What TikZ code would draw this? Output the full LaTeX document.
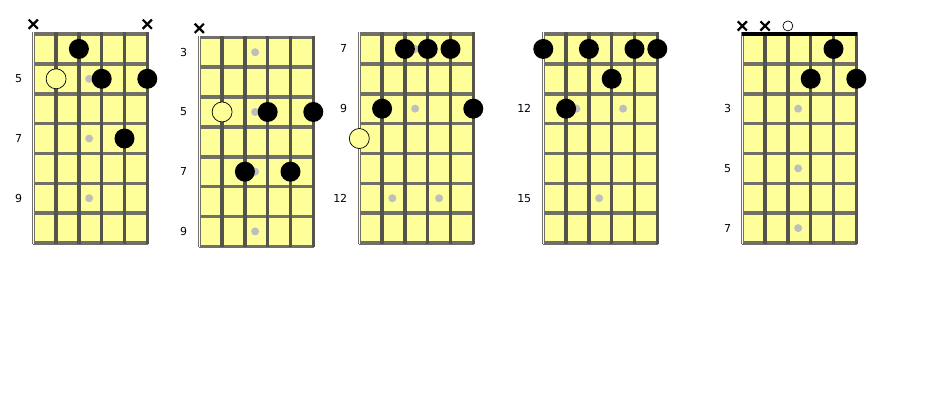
\documentclass[tikz,border=0pt]{standalone}
\usepackage{fontspec}
\setmainfont{DejaVu Sans}
\usetikzlibrary{shapes.misc}
\definecolor{boardyellow}{RGB}{255,255,153}
\definecolor{fretgray}{RGB}{112,112,104}
\definecolor{stringgray}{RGB}{84,84,76}
\definecolor{inlaygray}{RGB}{190,190,190}
\begin{document}
\begin{tikzpicture} [
                x=22.8pt, y=-29.86pt,
                board/.style={fill=boardyellow},
                fret/.style={draw=fretgray,line width=3.6pt},
                lowstring/.style={draw=fretgray,line width=3.6pt},
                thickstring/.style={draw=stringgray,line width=3.6pt},
                thinstring/.style={draw=stringgray,line width=2.5pt},
                nut/.style={draw=black,line width=4pt},
                inlay/.style={circle,fill=inlaygray,minimum size=8pt,inner sep=0pt},
                finger/.style={circle,fill=black,minimum size=20pt,inner sep=0pt},
                root/.style={circle,fill=boardyellow,draw=black,line width=0.7pt,minimum size=20pt,inner sep=0pt},
                openstring/.style={circle,draw=black,line width=0.7pt,minimum size=10pt,inner sep=0pt},
                mute/.style={cross out,draw=black,line width=2.2pt,minimum size=7pt,inner sep=0pt},
                fretno/.style={anchor=east,inner sep=0pt,font=\fontsize{11}{13}\selectfont},
            ]
            \useasboundingbox (0pt,0pt) rectangle (932pt,-400pt);
            % First we draw the five fretboards
            \foreach \name/\bx/\by in {
                    one/33.3/34, two/199.3/37.3, three/359.3/34, four/543.3/34, five/742.3/34} {
                \begin{scope}[shift={(\bx pt,-\by pt)}]
                    \coordinate (\name) at (0,0);
                    \fill[board] (0,0) rectangle (5.05,7);
                    \foreach \f in {0,...,7}
                        \draw[fret] (0,\f) -- (5.05,\f);
                    \draw[lowstring] (0,-0.06) -- (0,7.02);
                    \draw[white,line width=1.4pt] (0,-0.06) -- (0,7.02);
                    \foreach \s in {1,2}
                        \draw[thickstring] (\s,-0.06) -- (\s,7.02);
                    \foreach \s in {3,4,5}
                        \draw[thinstring] (\s,-0.06) -- (\s,7.02);
                \end{scope}
            }
            % Board one: fret numbers, inlays, muted strings and fingers
            \begin{scope}[shift={(one)}]
                \foreach \f/\txt in {1.5/5, 3.5/7, 5.5/9}
                    \node[fretno] (one-\txt) at (-0.48,\f) {\txt};
                \foreach \pos/\name in {
                        {(2.45,1.5)/i5}, {(2.45,3.5)/i7}, {(2.45,5.5)/i9}}
                    \node[inlay] (one-\name) at \pos {};
                \foreach \pos/\name in {
                        {(0,-0.33)/x1}, {(5,-0.33)/x6}}
                    \node[mute] (one-\name) at \pos {};
                \node[root] (one-r2) at (1,1.5) {};
                \foreach \pos/\name in {
                        {(2,0.5)/f3}, {(3,1.5)/f4}, {(5,1.5)/f6}, {(4,3.5)/f5}}
                    \node[finger] (one-\name) at \pos {};
            \end{scope}
            % Board two
            \begin{scope}[shift={(two)}]
                \foreach \f/\txt in {0.5/3, 2.5/5, 4.5/7, 6.5/9}
                    \node[fretno] (two-\txt) at (-0.52,\f) {\txt};
                \foreach \pos/\name in {
                        {(2.45,0.5)/i3}, {(2.45,2.5)/i5}, {(2.45,4.5)/i7}, {(2.45,6.5)/i9}}
                    \node[inlay] (two-\name) at \pos {};
                \node[mute] (two-x1) at (0,-0.3) {};
                \node[root] (two-r2) at (1,2.5) {};
                \foreach \pos/\name in {
                        {(3,2.5)/f4}, {(5,2.5)/f6}, {(2,4.5)/f3}, {(4,4.5)/f5}}
                    \node[finger] (two-\name) at \pos {};
            \end{scope}
            % Board three
            \begin{scope}[shift={(three)}]
                \foreach \f/\txt in {0.5/7, 2.5/9, 5.5/12}
                    \node[fretno] (three-\txt) at (-0.52,\f) {\txt};
                \foreach \pos/\name in {
                        {(2.45,0.5)/i7}, {(2.45,2.5)/i9}, {(1.45,5.5)/i12a}, {(3.5,5.5)/i12b}}
                    \node[inlay] (three-\name) at \pos {};
                \foreach \pos/\name in {
                        {(2,0.5)/f3}, {(3,0.5)/f4}, {(4,0.5)/f5}, {(1,2.5)/f2}, {(5,2.5)/f6}}
                    \node[finger] (three-\name) at \pos {};
                \node[root] (three-r1) at (0,3.5) {};
            \end{scope}
            % Board four
            \begin{scope}[shift={(four)}]
                \foreach \f/\txt in {2.5/12, 5.5/15}
                    \node[fretno] (four-\txt) at (-0.52,\f) {\txt};
                \foreach \pos/\name in {
                        {(1.45,2.5)/i12a}, {(3.5,2.5)/i12b}, {(2.45,5.5)/i15}}
                    \node[inlay] (four-\name) at \pos {};
                \foreach \pos/\name in {
                        {(0,0.5)/f1}, {(2,0.5)/f3}, {(4,0.5)/f5}, {(5,0.5)/f6},
                        {(3,1.5)/f4}, {(1,2.5)/f2}}
                    \node[finger] (four-\name) at \pos {};
            \end{scope}
            % Board five, with the nut
            \begin{scope}[shift={(five)}]
                \draw[nut] (0,0) -- (5.05,0);
                \foreach \f/\txt in {2.5/3, 4.5/5, 6.5/7}
                    \node[fretno] (five-\txt) at (-0.48,\f) {\txt};
                \foreach \pos/\name in {
                        {(2.45,2.5)/i3}, {(2.45,4.5)/i5}, {(2.45,6.5)/i7}}
                    \node[inlay] (five-\name) at \pos {};
                \foreach \pos/\name in {
                        {(0,-0.27)/x1}, {(1,-0.27)/x2}}
                    \node[mute] (five-\name) at \pos {};
                \node[openstring] (five-o3) at (2,-0.27) {};
                \foreach \pos/\name in {
                        {(4,0.5)/f5}, {(3,1.5)/f4}, {(5,1.5)/f6}}
                    \node[finger] (five-\name) at \pos {};
            \end{scope}
        \end{tikzpicture}
\end{document}
